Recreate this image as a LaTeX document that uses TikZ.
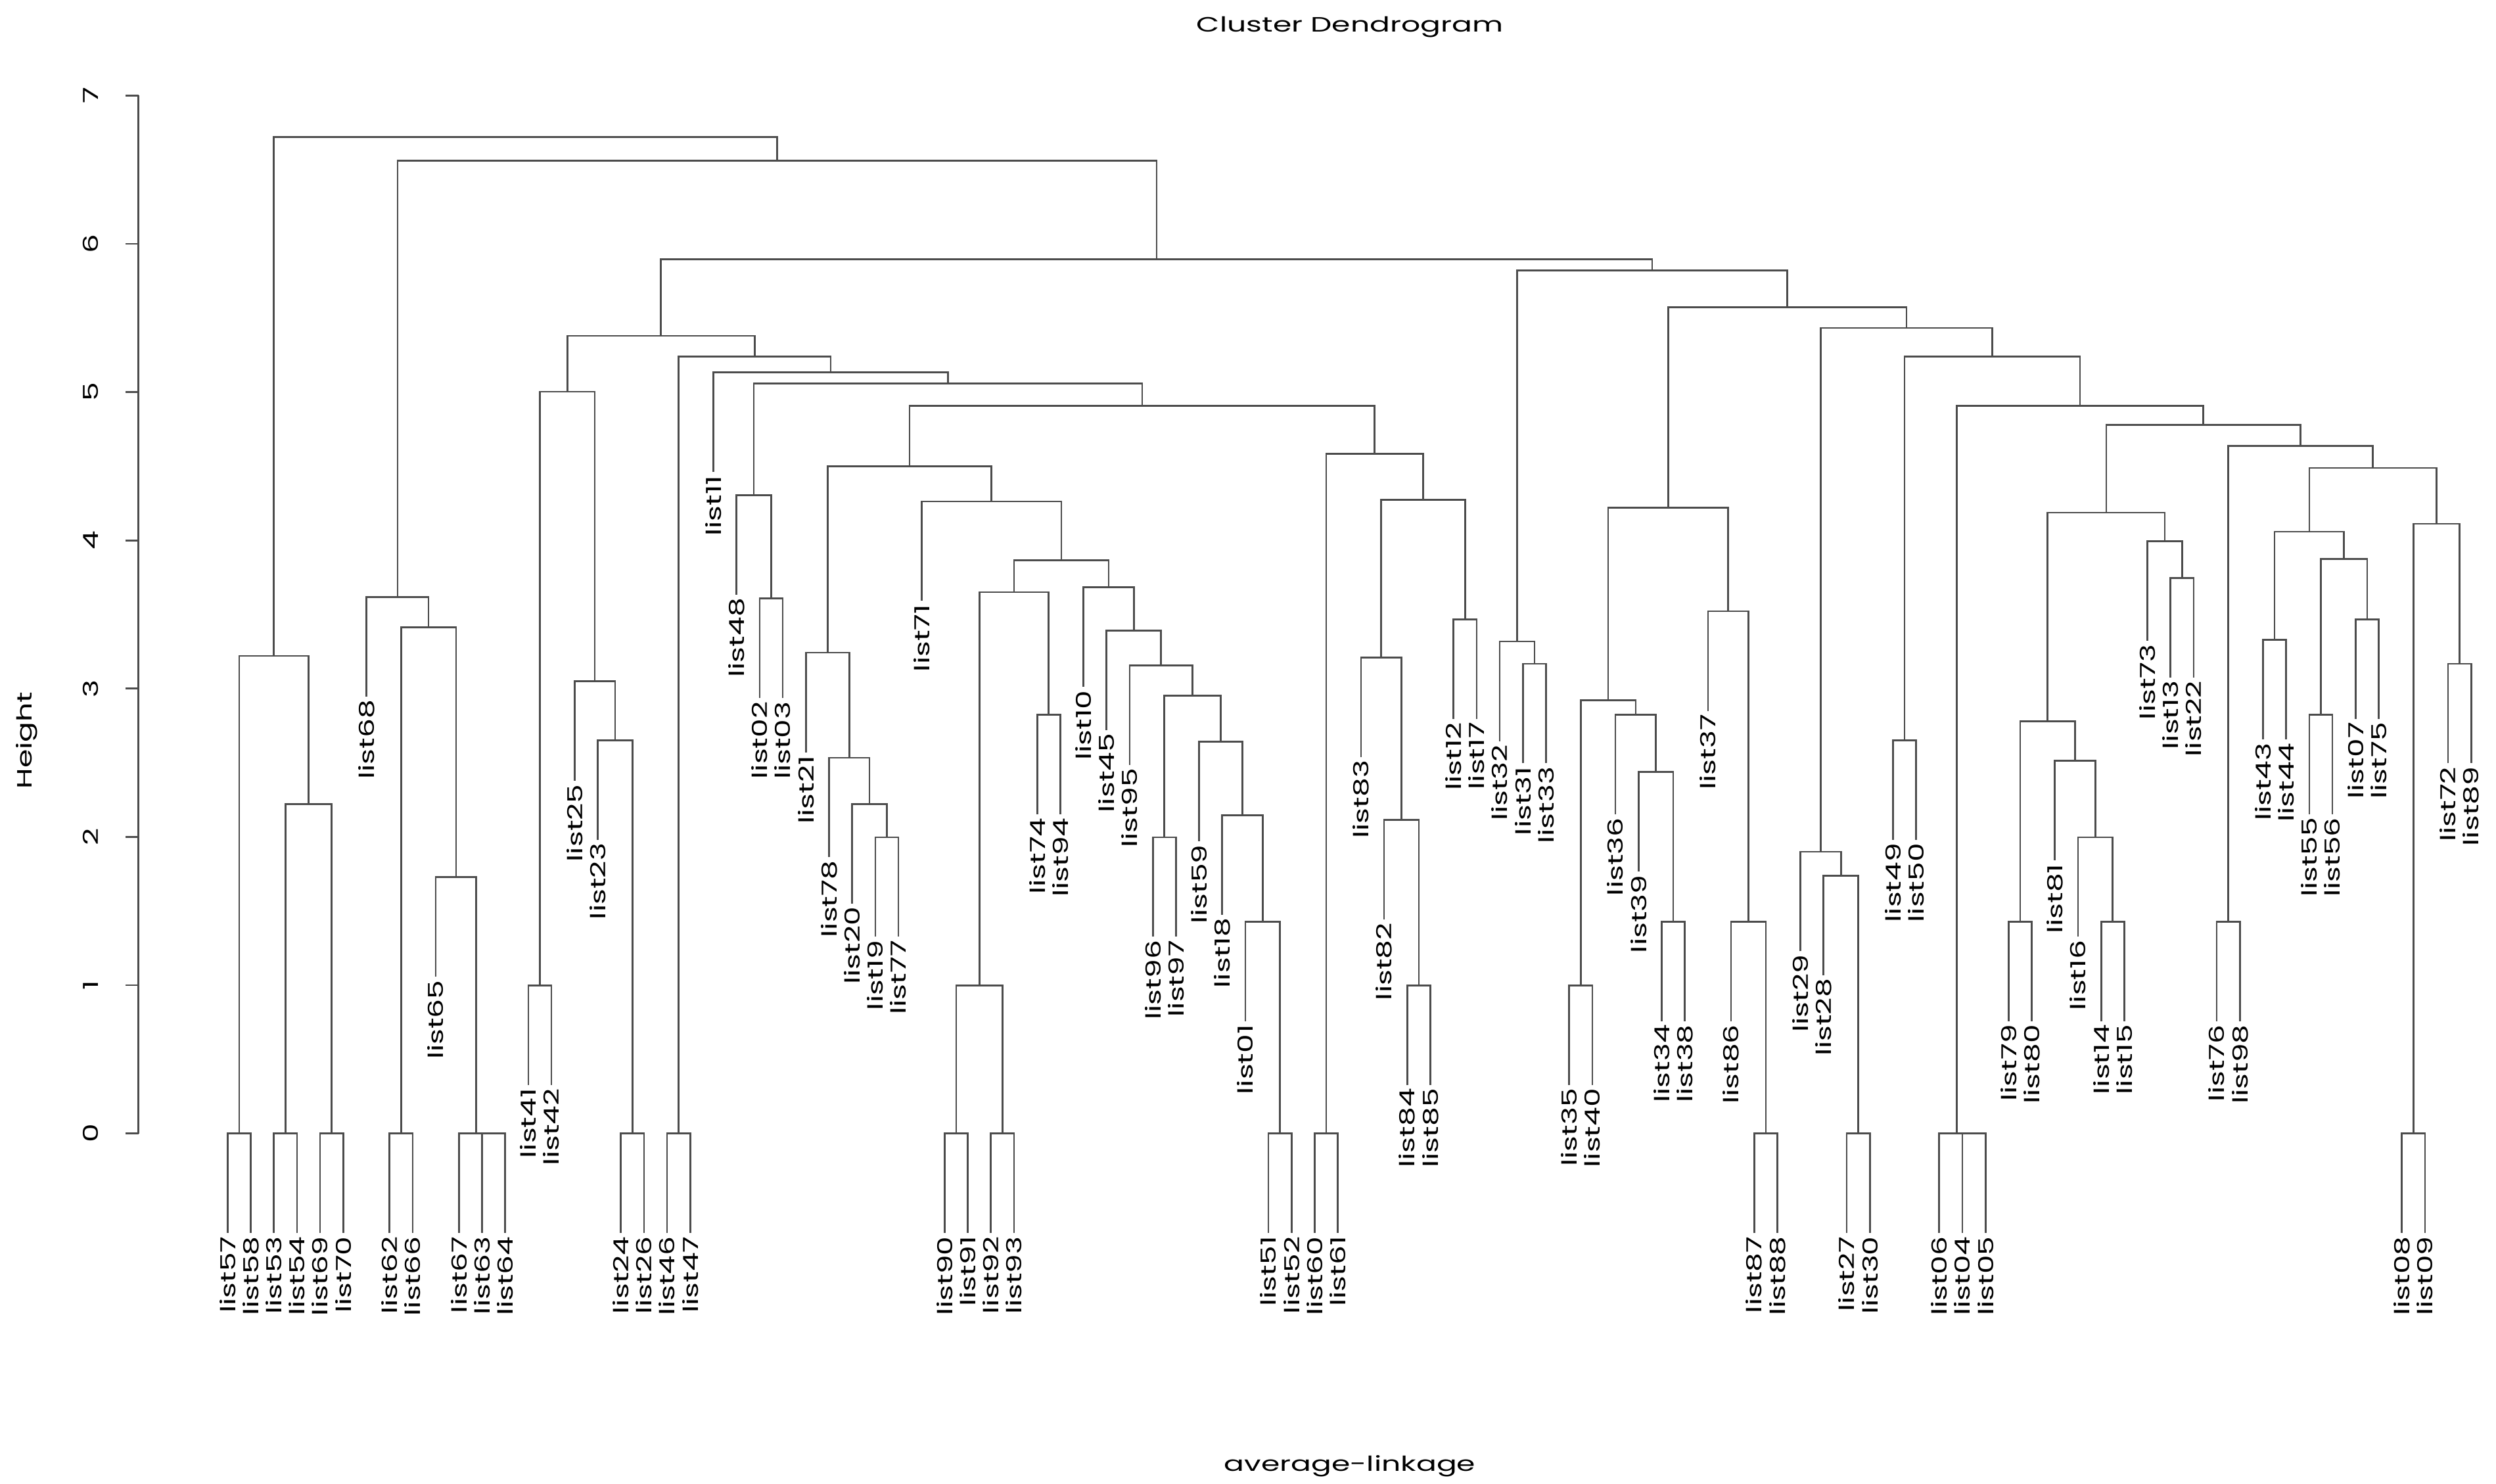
\documentclass[tikz,border=0pt]{standalone}
\usepackage{fontspec}
\usepackage{graphicx}
\setmainfont{Poppins}
\usetikzlibrary{calc}
\newcommand\wt[1]{\scalebox{1.45}[1]{#1}}
\tikzset{lab/.style={rotate=90,anchor=east,inner sep=2pt,font=\fontsize{13}{13}\selectfont},
 tr/.style={draw=black!70,line width=1.1pt},
 txt/.style={font=\fontsize{13}{13}\selectfont,inner sep=0pt}}
\newcommand\lf[4]{\coordinate (#1) at ({143+14.53*(#2-1)},{-(#3+62.5)}); \node[lab] (t#1) at (#1) {\wt{#4}};}
\newcommand\mg[4]{\path let \p1=(#2),\p2=(#3) in coordinate (#1) at ({0.5*\x1+0.5*\x2},{-#4pt}); \draw[tr] (#2) |- (#1) -| (#3);}
\begin{document}
\begin{tikzpicture}[x=1pt,y=1pt]
\useasboundingbox (0,0) rectangle (1568,-932);
% axis
\draw[tr] (87,-60) coordinate (ax7) -- (87,-712) coordinate (ax0);
\foreach \h in {0,...,7}{
  \draw[tr] (79,{-(712-93.14*\h)}) -- (87,{-(712-93.14*\h)});
  \node[txt,rotate=90] (tk\h) at (57,{-(712-93.14*\h)}) {\wt{\h}};}
\node[txt,rotate=90] (ylab) at (17,-465) {\wt{Height}};
\node[txt] (title) at (848,-17) {\wt{Cluster Dendrogram}};
\node[txt] (xlab) at (848,-921) {\wt{average-linkage}};
% leaves
\lf{L57}{1}{712}{list57}\lf{L58}{2}{712}{list58}\lf{L53}{3}{712}{list53}\lf{L54}{4}{712}{list54}
\lf{L69}{5}{712}{list69}\lf{L70}{6}{712}{list70}
\lf{L68}{7}{375}{list68}\lf{L62}{8}{712}{list62}\lf{L66}{9}{712}{list66}\lf{L65}{10}{551}{list65}
\lf{L67}{11}{712}{list67}\lf{L63}{12}{712}{list63}\lf{L64}{13}{712}{list64}
\lf{L41}{14}{619}{list41}\lf{L42}{15}{619}{list42}\lf{L25}{16}{428}{list25}\lf{L23}{17}{465}{list23}
\lf{L24}{18}{712}{list24}\lf{L26}{19}{712}{list26}\lf{L46}{20}{712}{list46}\lf{L47}{21}{712}{list47}
\lf{L11}{22}{234}{list11}\lf{L48}{23}{311}{list48}\lf{L02}{24}{376}{list02}\lf{L03}{25}{376}{list03}
\lf{L21}{26}{410}{list21}\lf{L78}{27}{476}{list78}\lf{L20}{28}{505}{list20}\lf{L19}{29}{526}{list19}\lf{L77}{30}{526}{list77}
\lf{L71}{31}{315}{list71}\lf{L90}{32}{712}{list90}\lf{L91}{33}{712}{list91}\lf{L92}{34}{712}{list92}\lf{L93}{35}{712}{list93}
\lf{L74}{36}{449}{list74}\lf{L94}{37}{449}{list94}\lf{L10}{38}{369}{list10}\lf{L45}{39}{396}{list45}\lf{L95}{40}{418}{list95}
\lf{L96}{41}{526}{list96}\lf{L97}{42}{526}{list97}\lf{L59}{43}{466}{list59}\lf{L18}{44}{512}{list18}\lf{L01}{45}{579}{list01}
\lf{L51}{46}{712}{list51}\lf{L52}{47}{712}{list52}\lf{L60}{48}{712}{list60}\lf{L61}{49}{712}{list61}
\lf{L83}{50}{413}{list83}\lf{L82}{51}{515}{list82}\lf{L84}{52}{619}{list84}\lf{L85}{53}{619}{list85}
\lf{L12}{54}{389}{list12}\lf{L17}{55}{389}{list17}
\lf{L32}{56}{403}{list32}\lf{L31}{57}{417}{list31}\lf{L33}{58}{417}{list33}
\lf{L35}{59}{619}{list35}\lf{L40}{60}{619}{list40}\lf{L36}{61}{449}{list36}\lf{L39}{62}{485}{list39}
\lf{L34}{63}{579}{list34}\lf{L38}{64}{579}{list38}\lf{L37}{65}{384}{list37}\lf{L86}{66}{579}{list86}
\lf{L87}{67}{712}{list87}\lf{L88}{68}{712}{list88}\lf{L29}{69}{535}{list29}\lf{L28}{70}{550}{list28}
\lf{L27}{71}{712}{list27}\lf{L30}{72}{712}{list30}\lf{L49}{73}{465}{list49}\lf{L50}{74}{465}{list50}
\lf{L06}{75}{712}{list06}\lf{L04}{76}{712}{list04}\lf{L05}{77}{712}{list05}
\lf{L79}{78}{579}{list79}\lf{L80}{79}{579}{list80}\lf{L81}{80}{478}{list81}\lf{L16}{81}{526}{list16}
\lf{L14}{82}{579}{list14}\lf{L15}{83}{579}{list15}\lf{L73}{84}{340}{list73}\lf{L13}{85}{363}{list13}\lf{L22}{86}{363}{list22}
\lf{L76}{87}{579}{list76}\lf{L98}{88}{579}{list98}\lf{L43}{89}{402}{list43}\lf{L44}{90}{402}{list44}
\lf{L55}{91}{449}{list55}\lf{L56}{92}{449}{list56}\lf{L07}{93}{389}{list07}\lf{L75}{94}{389}{list75}
\lf{L08}{95}{712}{list08}\lf{L09}{96}{712}{list09}\lf{L72}{97}{417}{list72}\lf{L89}{98}{417}{list89}
% merges
\mg{a1}{L57}{L58}{712}\mg{a2}{L53}{L54}{712}\mg{a3}{L69}{L70}{712}\mg{a4}{a2}{a3}{505}\mg{A}{a1}{a4}{412}
\mg{b1}{L62}{L66}{712}\mg{b2}{L63}{L64}{712}\mg{b3}{L67}{b2}{712}\mg{b4}{L65}{b3}{551}\mg{b5}{b1}{b4}{394}\mg{B}{L68}{b5}{375}
\mg{f1}{L41}{L42}{619}\mg{f2}{L24}{L26}{712}\mg{f3}{L23}{f2}{465}\mg{f4}{L25}{f3}{428}\mg{F}{f1}{f4}{246}
\mg{g1}{L46}{L47}{712}
\mg{n1}{L02}{L03}{376}\mg{N}{L48}{n1}{311}
\mg{r1}{L19}{L77}{526}\mg{T}{L20}{r1}{505}\mg{S}{L78}{T}{476}\mg{R}{L21}{S}{410}
\mg{x1}{L90}{L91}{712}\mg{x2}{L92}{L93}{712}\mg{X}{x1}{x2}{619}\mg{w1}{L74}{L94}{449}\mg{W}{X}{w1}{372}
\mg{ab1}{L96}{L97}{526}\mg{ae1}{L51}{L52}{712}\mg{AE}{L01}{ae1}{579}\mg{AD}{L18}{AE}{512}\mg{AC}{L59}{AD}{466}
\mg{AB}{ab1}{AC}{437}\mg{AA}{L95}{AB}{418}\mg{Z}{L45}{AA}{396}\mg{Y}{L10}{Z}{369}\mg{V}{W}{Y}{352}\mg{U}{L71}{V}{315}\mg{P}{R}{U}{293}
\mg{q1}{L60}{L61}{712}\mg{ah1}{L84}{L85}{619}\mg{AH}{L82}{ah1}{515}\mg{AG}{L83}{AH}{413}\mg{af1}{L12}{L17}{389}\mg{AF}{AG}{af1}{314}\mg{Q}{q1}{AF}{285}
\mg{O}{P}{Q}{255}\mg{M}{N}{O}{241}\mg{J}{L11}{M}{234}\mg{G}{g1}{J}{224}\mg{D}{F}{G}{211}
\mg{ai1}{L31}{L33}{417}\mg{AI}{L32}{ai1}{403}
\mg{al1}{L35}{L40}{619}\mg{an1}{L34}{L38}{579}\mg{AN}{L39}{an1}{485}\mg{AM}{L36}{AN}{449}\mg{AL}{al1}{AM}{440}
\mg{ap1}{L87}{L88}{712}\mg{AP}{L86}{ap1}{579}\mg{AO}{L37}{AP}{384}\mg{AK}{AL}{AO}{319}
\mg{as1}{L27}{L30}{712}\mg{AS}{L28}{as1}{550}\mg{AR}{L29}{AS}{535}
\mg{at1}{L49}{L50}{465}
\mg{av1}{L04}{L05}{712}\mg{AV}{L06}{av1}{712}
\mg{ay1}{L79}{L80}{579}\mg{ba1}{L14}{L15}{579}\mg{BA}{L16}{ba1}{526}\mg{AZ}{L81}{BA}{478}\mg{AY}{ay1}{AZ}{453}
\mg{bb1}{L13}{L22}{363}\mg{BB}{L73}{bb1}{340}\mg{AX}{AY}{BB}{322}
\mg{bc1}{L76}{L98}{579}\mg{be1}{L43}{L44}{402}\mg{bf1}{L55}{L56}{449}\mg{bf2}{L07}{L75}{389}\mg{BF}{bf1}{bf2}{351}\mg{BE}{be1}{BF}{334}
\mg{bg1}{L08}{L09}{712}\mg{bg2}{L72}{L89}{417}\mg{BG}{bg1}{bg2}{329}\mg{BD}{BE}{BG}{294}\mg{BC}{bc1}{BD}{280}
\mg{AW}{AX}{BC}{267}\mg{AU}{AV}{AW}{255}\mg{AT}{at1}{AU}{224}\mg{AQ}{AR}{AT}{206}\mg{AJ}{AK}{AQ}{193}\mg{E}{AI}{AJ}{170}
\mg{C}{D}{E}{163}\mg{BR}{B}{C}{101}\mg{root}{A}{BR}{86}
\end{tikzpicture}
\end{document}
